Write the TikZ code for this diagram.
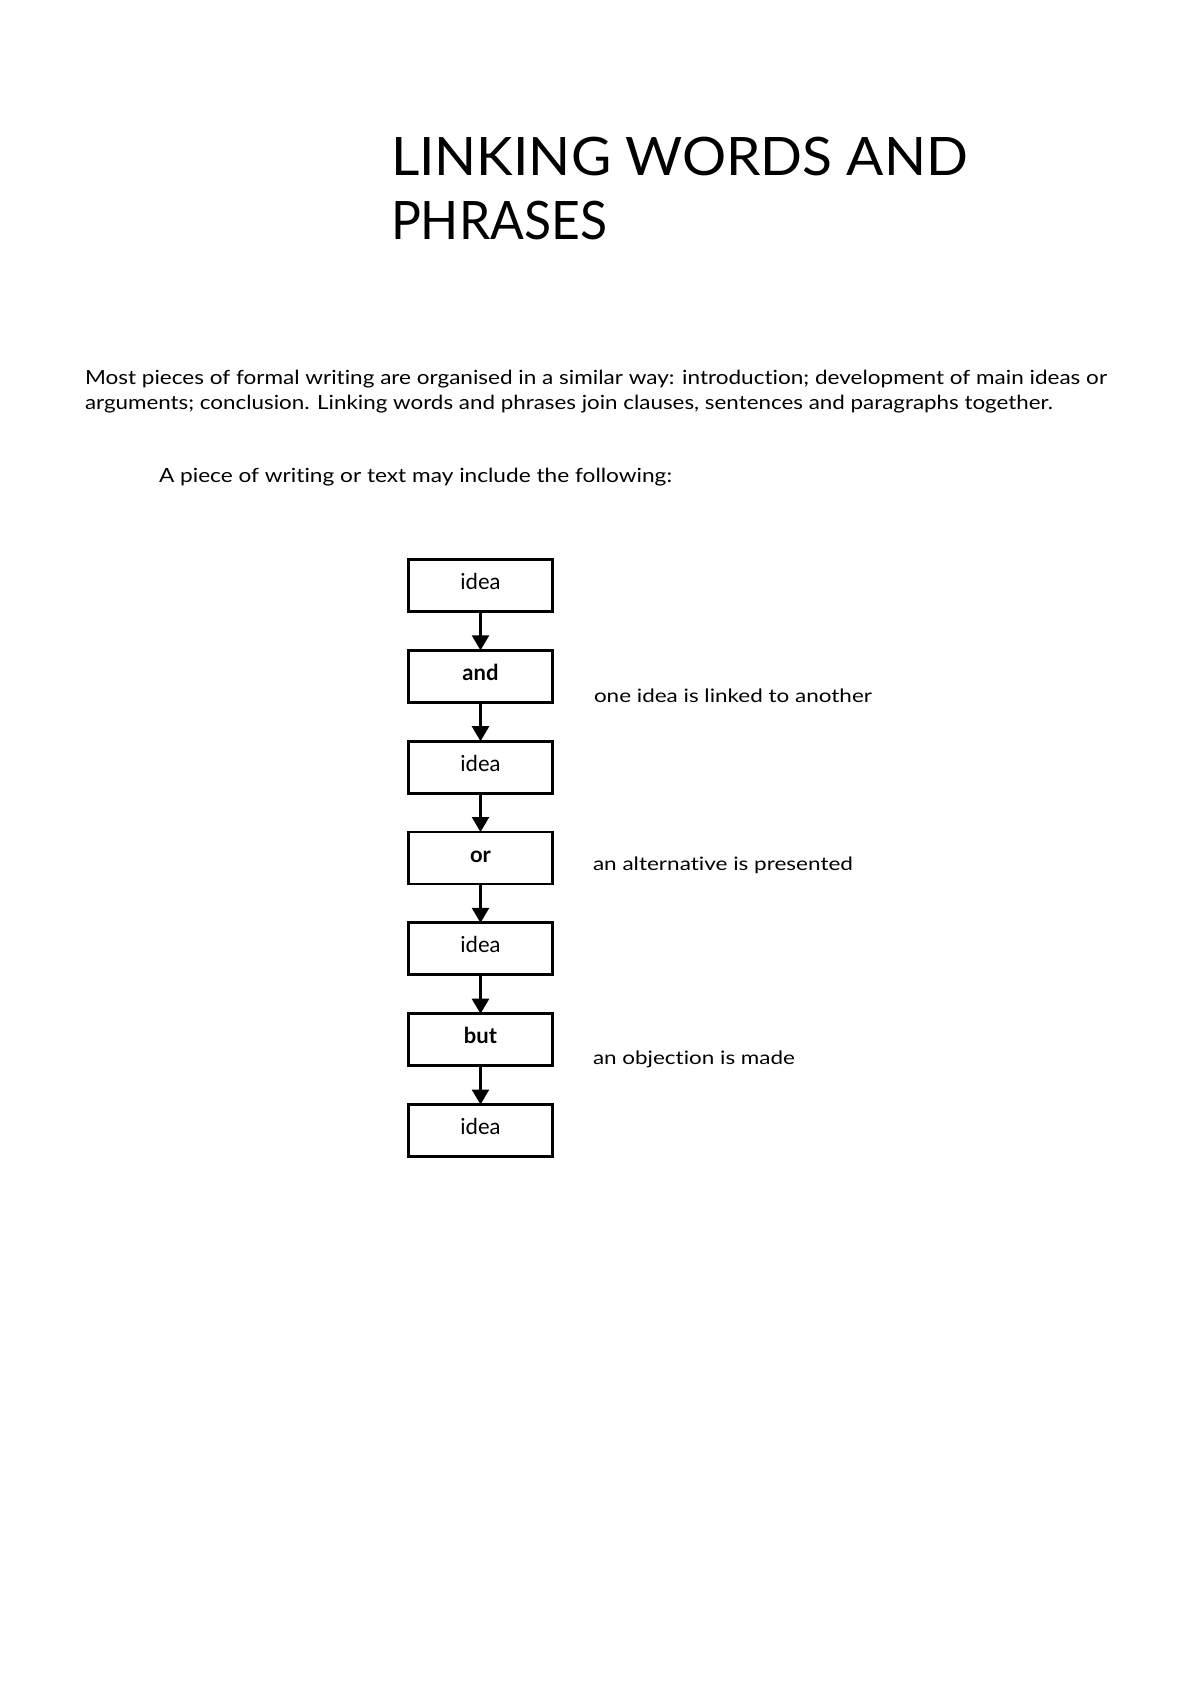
\documentclass[tikz,border=0pt]{standalone}
\usepackage{fontspec}
\setmainfont{Lato}[Ligatures=NoCommon]
\usepackage{graphicx}
\usetikzlibrary{arrows.meta}
\newcommand{\fitw}[2]{\resizebox{#1}{\height}{#2}}
\begin{document}
\begin{tikzpicture}[x=1pt,y=-1pt,
  every node/.style={inner sep=0pt, outer sep=0pt},
  titletext/.style={anchor=base west, font=\fontsize{53}{60}\selectfont},
  bodytext/.style={anchor=base west, font=\fontsize{19.5}{24}\selectfont},
  sidetext/.style={anchor=base west, font=\fontsize{18.5}{22}\selectfont},
  ideabox/.style={draw, line width=2.8pt, minimum width=144pt, minimum height=52pt,
    text height=15pt, text depth=7pt, font=\fontsize{22}{26}\selectfont},
  linkbox/.style={ideabox, font=\fontsize{22}{26}\selectfont\bfseries},
  flow/.style={line width=2.6pt, -{Triangle[length=15pt,width=17pt]}}
]
\useasboundingbox[fill=white] (0,0) rectangle (1200,1698);

% title
\node[titletext] (t1) at (391,175) {\fitw{577pt}{LINKING WORDS AND}};
\node[titletext] (t2) at (391,239) {\fitw{216pt}{PHRASES}};

% body
\node[bodytext] (p1) at (85,384) {\fitw{1022pt}{Most pieces of formal writing are organised in a similar way: introduction; development of main ideas or}};
\node[bodytext] (p2) at (85,409) {\fitw{968pt}{arguments; conclusion. Linking words and phrases join clauses, sentences and paragraphs together.}};
\node[bodytext] (p3) at (159,482) {\fitw{513pt}{A piece of writing or text may include the following:}};

% flow boxes
\node[ideabox] (b1) at (480.5,585.5) {idea};
\node[linkbox] (b2) at (480.5,676.3) {and};
\node[ideabox] (b3) at (480.5,767.2) {idea};
\node[linkbox] (b4) at (480.5,858.0) {or};
\node[ideabox] (b5) at (480.5,948.8) {idea};
\node[linkbox] (b6) at (480.5,1039.7) {but};
\node[ideabox] (b7) at (480.5,1130.5) {idea};

\draw[flow] (b1.south) -- (b2.north);
\draw[flow] (b2.south) -- (b3.north);
\draw[flow] (b3.south) -- (b4.north);
\draw[flow] (b4.south) -- (b5.north);
\draw[flow] (b5.south) -- (b6.north);
\draw[flow] (b6.south) -- (b7.north);

% side labels
\node[sidetext] (s1) at (594,702) {\fitw{278pt}{one idea is linked to another}};
\node[sidetext] (s2) at (593,870) {\fitw{260pt}{an alternative is presented}};
\node[sidetext] (s3) at (593,1064) {\fitw{202pt}{an objection is made}};
\end{tikzpicture}
\end{document}
